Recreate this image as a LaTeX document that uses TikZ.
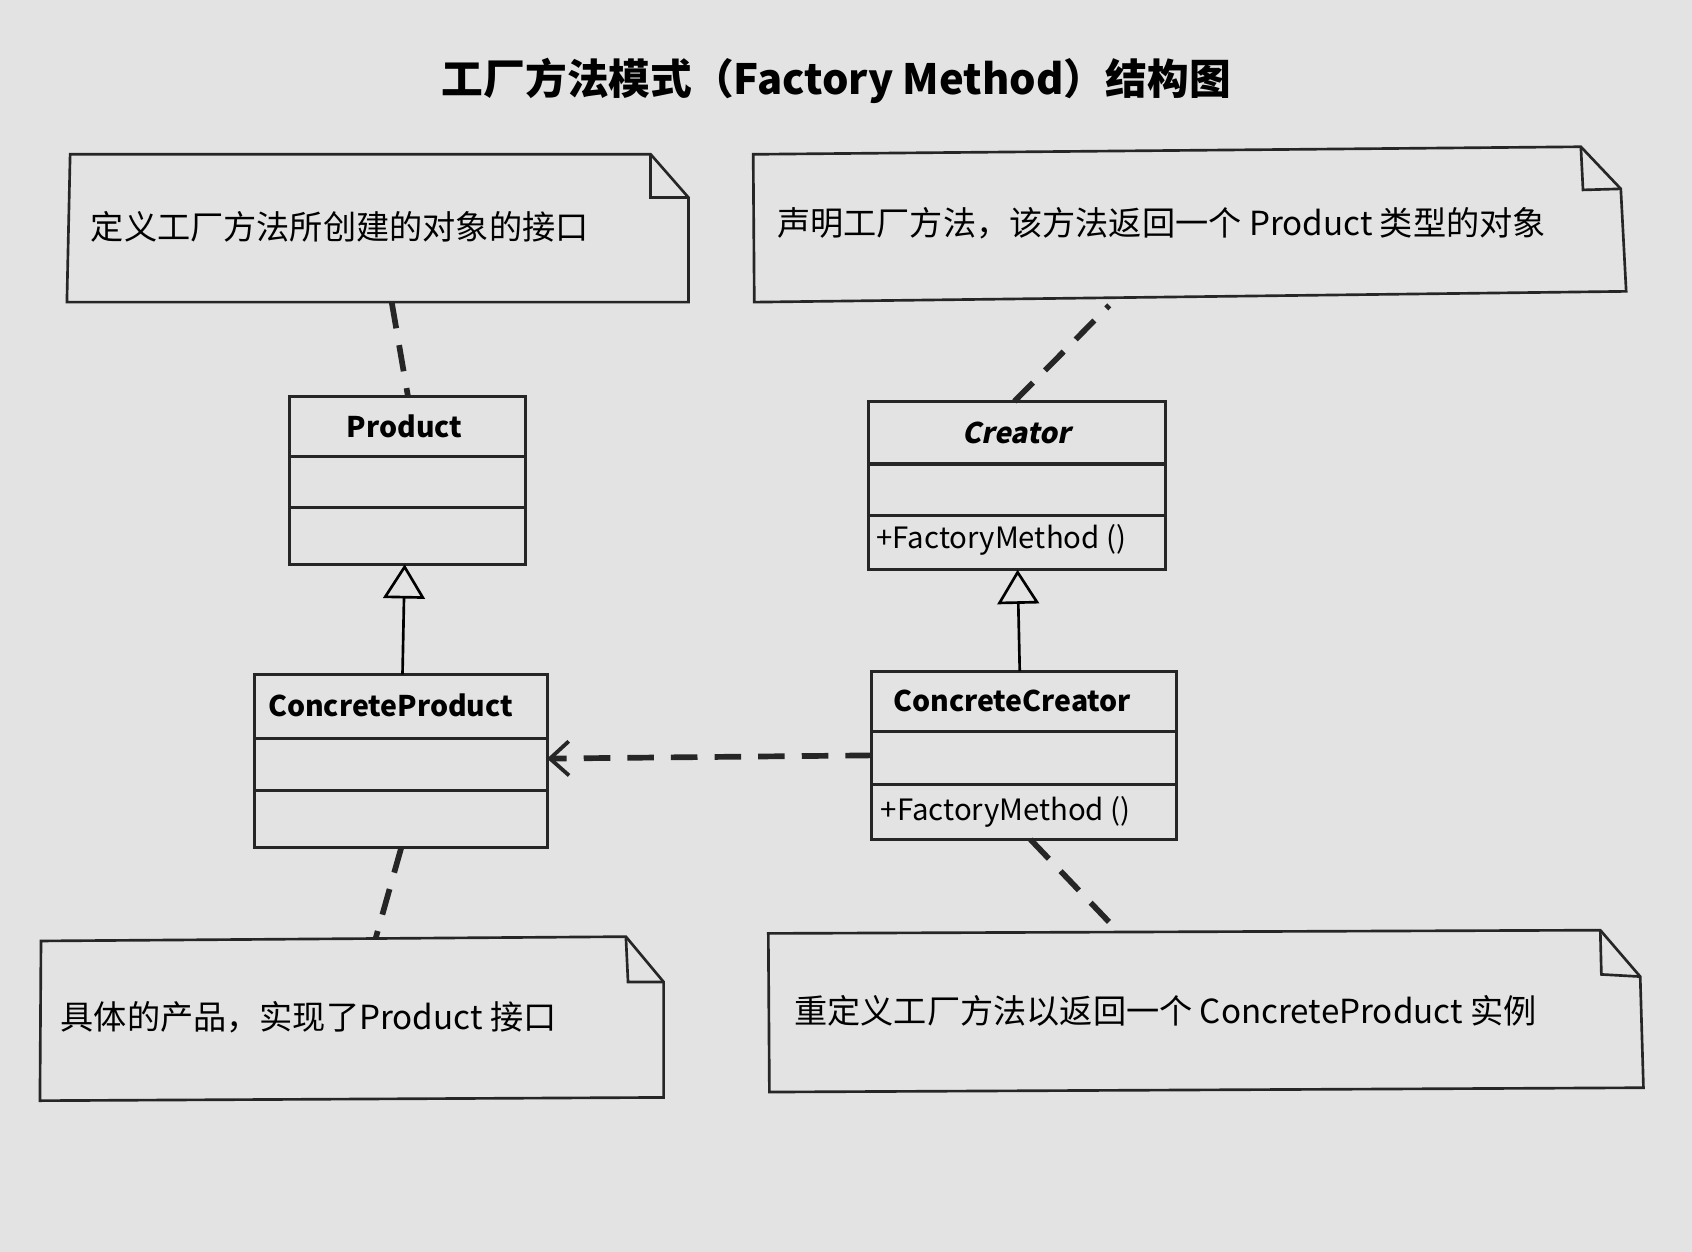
\documentclass[tikz,border=0pt]{standalone}
\usepackage{fontspec}
\setmainfont{Noto Sans CJK SC}
\newfontfamily\slanted{Noto Sans CJK SC}[FakeSlant=0.2]
\usetikzlibrary{arrows.meta}
\begin{document}
\begin{tikzpicture}[x=0.02cm,y=-0.02cm,
  box/.style={draw=black!85,line width=1.6pt},
  note/.style={draw=black!85,line width=1.4pt},
  dashln/.style={line width=3pt,dash pattern=on 14pt off 9pt,black!85},
  ntext/.style={anchor=west,font=\fontsize{17.5}{20}\selectfont},
  cname/.style={font=\fontsize{15.5}{17}\selectfont},
  inh/.style={line width=1.4pt,-{Triangle[open,length=18pt,width=22pt]}},
  dep/.style={dashln,-{Straight Barb[length=10pt,width=18pt,line width=2pt]}}]
\fill[black!11] (0,0) rectangle (1568,1160);
\useasboundingbox (0,0) rectangle (1568,1160);
\node[font=\fontsize{22}{24}\selectfont\bfseries] (title) at (775,75) {工厂方法模式（Factory Method）结构图};
% notes
\draw[note] (65,143) -- (603,143) -- (638,183) -- (638,280) -- (62,280) -- cycle;
\draw[note] (603,143) -- (603,183) -- (638,183);
\node[ntext] (t1) at (78,210) {定义工厂方法所创建的对象的接口};
\coordinate (n1) at (363,280);
\draw[note] (698,143) -- (1465,136) -- (1502,175) -- (1507,270) -- (699,280) -- cycle;
\draw[note] (1465,136) -- (1467,176) -- (1502,175);
\node[ntext] (t2) at (714,207) {声明工厂方法，该方法返回一个 Product 类型的对象};
\coordinate (n2) at (1028,283);
\draw[note] (38,872) -- (580,868) -- (615,910) -- (615,1017) -- (37,1020) -- cycle;
\draw[note] (580,868) -- (582,910) -- (615,910);
\node[ntext] (t3) at (50,943) {具体的产品，实现了Product 接口};
\coordinate (n3) at (348,870);
\draw[note] (712,865) -- (1483,862) -- (1520,905) -- (1523,1008) -- (713,1012) -- cycle;
\draw[note] (1483,862) -- (1484,903) -- (1520,905);
\node[ntext] (t4) at (730,937) {重定义工厂方法以返回一个 ConcreteProduct 实例};
\coordinate (n4) at (1035,862);
% classes
\draw[box] (268,367) rectangle (487,523); \draw[box] (268,423)--(487,423) (268,470)--(487,470);
\node[font=\fontsize{15}{17}\selectfont\bfseries] (P) at (375,395) {Product};
\coordinate (Pt) at (378,367); \coordinate (Pb) at (375,523);
\draw[box] (236,625) rectangle (507,785); \draw[box] (236,684)--(507,684) (236,733)--(507,733);
\node[font=\fontsize{15}{17}\selectfont\bfseries] (CP) at (362,654) {ConcreteProduct};
\coordinate (CPt) at (373,625); \coordinate (CPr) at (507,703); \coordinate (CPb) at (372,785);
\draw[box] (805,372) rectangle (1080,528); \draw[box] (805,430)--(1080,430) (805,478)--(1080,478);
\node[font=\fontsize{15}{17}\selectfont\slanted\bfseries] (C) at (942,401) {Creator};
\node[cname,anchor=west] (Cm) at (806,500) {+FactoryMethod ()};
\coordinate (Ct) at (940,372); \coordinate (Cb) at (943,528);
\draw[box] (808,622) rectangle (1090,778); \draw[box] (808,678)--(1090,678) (808,727)--(1090,727);
\node[font=\fontsize{15}{17}\selectfont\bfseries] (CC) at (938,650) {ConcreteCreator};
\node[cname,anchor=west] (CCm) at (810,752) {+FactoryMethod ()};
\coordinate (CCt) at (945,622); \coordinate (CCl) at (808,700); \coordinate (CCb) at (955,778);
% connectors
\draw[inh] (CPt) -- (Pb);
\draw[inh] (CCt) -- (Cb);
\draw[dep] (CCl) -- (CPr);
\draw[dashln] (n1) -- (Pt);
\draw[dashln] (Ct) -- (n2);
\draw[dashln] (CPb) -- (n3);
\draw[dashln] (CCb) -- (n4);
\end{tikzpicture}
\end{document}
